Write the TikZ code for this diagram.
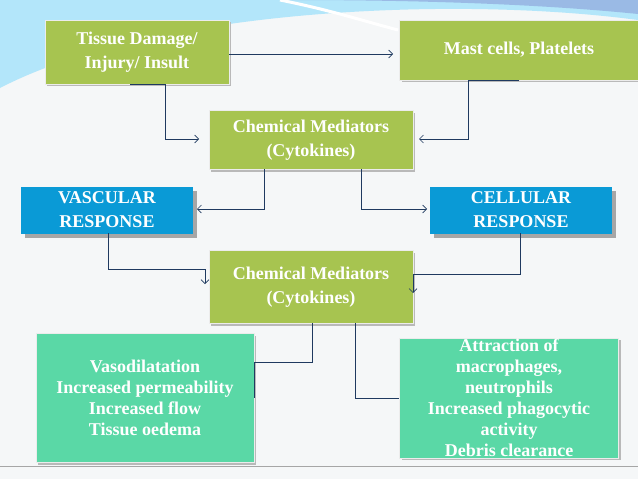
\documentclass[tikz,border=0pt]{standalone}
\usepackage{fontspec}
\setmainfont{Liberation Serif}
\usetikzlibrary{arrows.meta}
\definecolor{gg}{HTML}{A7C450}
\definecolor{tt}{HTML}{5AD8A6}
\definecolor{bl}{HTML}{0A9AD6}
\definecolor{ln}{HTML}{1F3A60}
\definecolor{bg}{HTML}{F5F7F8}
\tikzset{
  box/.style={draw=white!85!gray,line width=0.6pt,align=center,text=white,font=\bfseries\fontsize{18}{24}\selectfont,inner sep=1pt,
    preaction={fill=gray!55,transform canvas={shift={(2pt,-2pt)}}}},
  gbox/.style={box,fill=gg},
  bbox/.style={draw=none,align=center,text=white,font=\bfseries\fontsize{18}{24}\selectfont,fill=bl,
    preaction={fill=gray!70,transform canvas={shift={(4pt,-4pt)}}}},
  tbox/.style={box,fill=tt,font=\bfseries\fontsize{18}{21}\selectfont},
  con/.style={draw=ln,line width=0.6pt},
  arr/.style={con,-{Straight Barb[length=4pt,width=8pt]}},
}
\begin{document}
\begin{tikzpicture}[x=1pt,y=-1pt]
\fill[bg] (0,0) rectangle (638,479);
\useasboundingbox (0,0) rectangle (638,479);
\fill[cyan!30] (0,0) -- (638,0) -- (638,20) .. controls (450,-5) and (150,10) .. (0,88) -- cycle;
\fill[cyan!55!blue!40] (290,0) -- (638,0) -- (638,14) .. controls (520,2) and (380,0) .. (290,0) -- cycle;
\draw[white,line width=3pt] (280,0) .. controls (330,10) and (360,20) .. (398,30);
\draw[gray!70,line width=1pt] (0,466) -- (638,466);
\node[gbox,minimum width=184,minimum height=64] (tis) at (137,52) {Tissue Damage/\\Injury/ Insult};
\node[gbox,minimum width=239,minimum height=60] (mast) at (519,50) {Mast cells, Platelets};
\node[gbox,minimum width=204,minimum height=59] (cm1) at (311,140) {Chemical Mediators\\(Cytokines)};
\node[bbox,minimum width=172,minimum height=47] (vas) at (107,210) {VASCULAR\\RESPONSE};
\node[bbox,minimum width=182,minimum height=47] (cel) at (521,210) {CELLULAR\\RESPONSE};
\node[gbox,minimum width=204,minimum height=73] (cm2) at (311,287) {Chemical Mediators\\(Cytokines)};
\node[tbox,minimum width=218,minimum height=129] (vl) at (145,398) {Vasodilatation\\Increased permeability\\Increased flow\\Tissue oedema};
\node[tbox,minimum width=219,minimum height=119] (cl) at (509,398) {Attraction of\\macrophages,\\neutrophils\\Increased phagocytic\\activity\\Debris clearance};
\coordinate (a1) at (130,84);
\draw[arr] (tis.east |- 0,54) -- (393,54);
\draw[arr] (a1) -- (165,84) -- (165,139) -- (199,139);
\draw[arr] (519,80) -- (468,80) -- (468,139) -- (419,139);
\draw[arr] (264,169) -- (264,209) -- (197,209);
\draw[arr] (361,169) -- (361,209) -- (427,209);
\draw[arr] (108,233) -- (108,269) -- (205,269) -- (205,284);
\draw[arr] (520,233) -- (520,274) -- (413,274) -- (413,293);
\draw[con] (312,323) -- (312,362) -- (254,362) -- (254,398);
\draw[con] (355,323) -- (355,398) -- (399,398);
\end{tikzpicture}
\end{document}
